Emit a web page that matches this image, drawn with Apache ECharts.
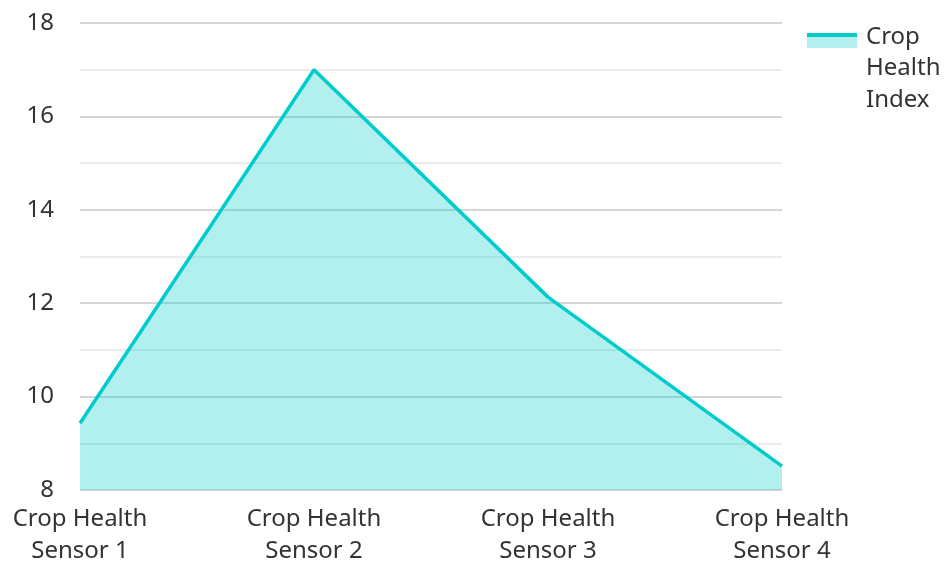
<!DOCTYPE html>
<html>
<head>
<meta charset="utf-8">
<style>
  html, body { margin: 0; padding: 0; background: #ffffff; }
  #chart { width: 945px; height: 562px; }
</style>
<script src="https://cdn.jsdelivr.net/npm/echarts@6/dist/echarts.min.js"></script>
</head>
<body>
<div id="chart"></div>
<script>
// Sensor readings for the crop health index
const categories = ['Crop Health Sensor 1', 'Crop Health Sensor 2', 'Crop Health Sensor 3', 'Crop Health Sensor 4'];
const healthIndex = [9.43, 17.0, 12.13, 8.51];
const seriesName = 'Crop Health Index';

const lineColor = '#00cccc';
const font = '"Noto Sans", "Open Sans", sans-serif';

const chart = echarts.init(document.getElementById('chart'), null, { renderer: 'canvas' });

// Legend swatch: a thick stroke over a pale band, pinned to the first text line
const legendSwatch = {
  type: 'linear', x: 0, y: 0, x2: 0, y2: 1,
  colorStops: [
    { offset: 0, color: 'rgba(255,255,255,0)' },
    { offset: 0.128, color: 'rgba(255,255,255,0)' },
    { offset: 0.128, color: lineColor },
    { offset: 0.17, color: lineColor },
    { offset: 0.17, color: '#b2efee' },
    { offset: 0.284, color: '#b2efee' },
    { offset: 0.284, color: 'rgba(255,255,255,0)' },
    { offset: 1, color: 'rgba(255,255,255,0)' }
  ]
};

chart.setOption({
  animation: false,
  grid: { left: 80, right: 163, top: 23, bottom: 72, outerBoundsMode: 'none', containLabel: false },
  legend: {
    left: 802,
    top: 16,
    orient: 'vertical',
    icon: 'rect',
    itemWidth: 50,
    itemHeight: 94,
    itemStyle: { color: legendSwatch, borderWidth: 0 },
    textStyle: {
      fontFamily: font,
      fontSize: 24,
      color: '#333',
      width: 86,
      overflow: 'break',
      lineHeight: 31.5,
      padding: [0, 0, 0, 4]
    },
    data: [seriesName]
  },
  xAxis: {
    type: 'category',
    data: categories,
    boundaryGap: false,
    axisLine: { show: false },
    axisTick: { show: false },
    axisLabel: {
      fontFamily: font,
      fontSize: 24,
      color: '#333',
      margin: 13,
      lineHeight: 32,
      interval: 0,
      formatter: v => v.replace(/ (Sensor)/, '\n$1')
    }
  },
  yAxis: {
    type: 'value',
    min: 8,
    max: 18,
    interval: 2,
    axisLine: { show: false },
    axisTick: { show: false },
    axisLabel: { fontFamily: font, fontSize: 24, color: '#333', margin: 26 },
    splitLine: { lineStyle: { color: '#c8c8c8', width: 1.5 } },
    minorTick: { show: false, splitNumber: 2 },
    minorSplitLine: { show: true, lineStyle: { color: '#e6e6e6', width: 1.5 } }
  },
  series: [{
    name: seriesName,
    type: 'line',
    data: healthIndex,
    symbol: 'none',
    lineStyle: { color: lineColor, width: 3.5 },
    itemStyle: { color: lineColor },
    areaStyle: { color: lineColor, opacity: 0.3 }
  }]
});
</script>
</body>
</html>
